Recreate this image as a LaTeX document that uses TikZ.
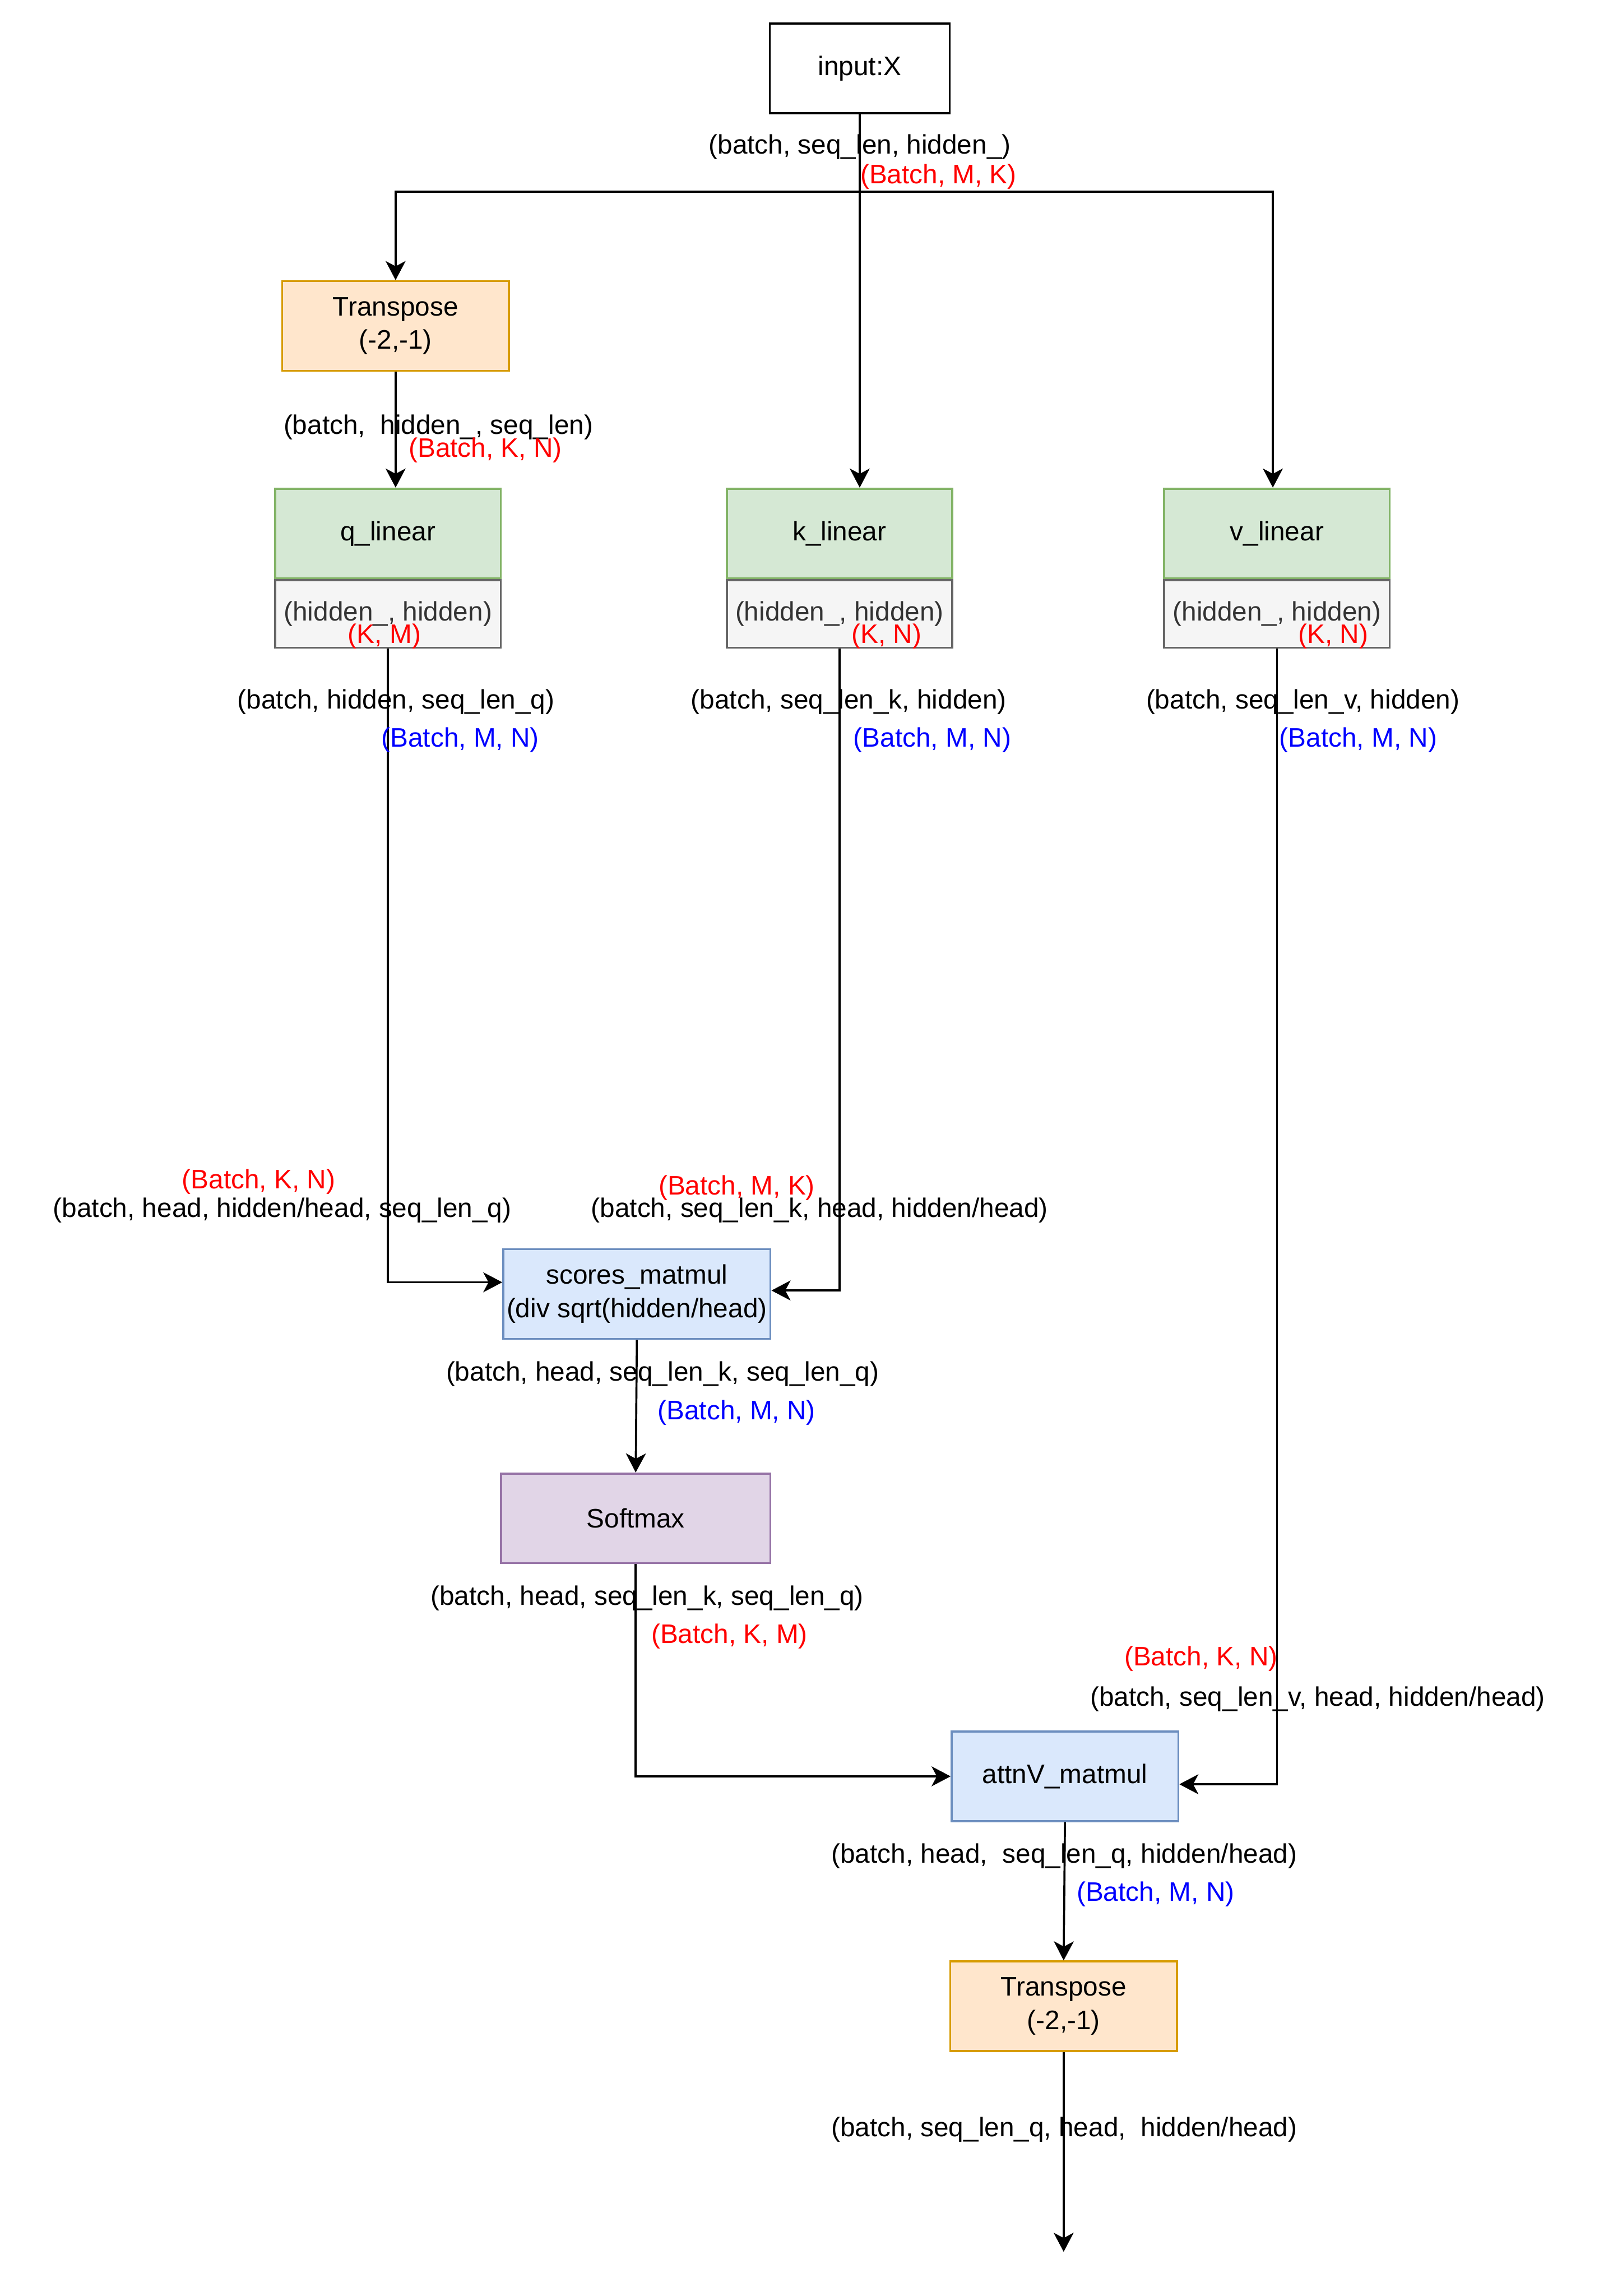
\documentclass[tikz,border=0pt]{standalone}
\usepackage{fontspec}
\setmainfont{Liberation Sans}
\usetikzlibrary{positioning,arrows.meta}
\definecolor{tpfill}{HTML}{FFE6CC}
\definecolor{tpdraw}{HTML}{D79B00}
\definecolor{linfill}{HTML}{D5E8D4}
\definecolor{lindraw}{HTML}{82B366}
\definecolor{wfill}{HTML}{F5F5F5}
\definecolor{wdraw}{HTML}{666666}
\definecolor{wtext}{HTML}{333333}
\definecolor{mmfill}{HTML}{DAE8FC}
\definecolor{mmdraw}{HTML}{6C8EBF}
\definecolor{smfill}{HTML}{E1D5E7}
\definecolor{smdraw}{HTML}{9673A6}
\tikzstyle{block} = [rectangle, minimum height=1.53cm, inner sep=0pt, align=center, line width=1pt]
\tikzstyle{inputbox} = [block, minimum width=3.07cm, draw=black, fill=white]
\tikzstyle{transpose} = [block, minimum width=3.87cm, draw=tpdraw, fill=tpfill]
\tikzstyle{linear} = [block, minimum width=3.85cm, draw=lindraw, fill=linfill]
\tikzstyle{weight} = [block, minimum width=3.85cm, minimum height=1.15cm, draw=wdraw, fill=wfill, text=wtext]
\tikzstyle{matmul} = [block, draw=mmdraw, fill=mmfill]
\tikzstyle{softmax} = [block, minimum width=4.6cm, draw=smdraw, fill=smfill]
\tikzstyle{dims} = [inner sep=0pt]
\tikzstyle{dimsred} = [dims, text=red]
\tikzstyle{dimsblue} = [dims, text=blue]
\tikzstyle{arrow} = [line width=1pt, -{Stealth[length=3.25mm, width=3.4mm, inset=0.9mm]}]

\begin{document}
\begin{tikzpicture}[x=0.025cm, y=-0.025cm, every node/.style={font=\fontsize{13pt}{16.3pt}\selectfont}]
\useasboundingbox (0,0) rectangle (1092,1568);
\node (input) [inputbox] at (587.2,46.6) {input:X};
\coordinate (split) at (587.2,130.8);
\node (tr1) [transpose] at (270.2,222.6) {Transpose\\(-2,-1)};
\node (qlin) [linear] at (265,364.3) {q\_linear};
\node (qw) [weight, below=0pt of qlin] {(hidden\_, hidden)};
\node (klin) [linear] at (573.4,364.3) {k\_linear};
\node (kw) [weight, below=0pt of klin] {(hidden\_, hidden)};
\node (vlin) [linear] at (872.2,364.3) {v\_linear};
\node (vw) [weight, below=0pt of vlin] {(hidden\_, hidden)};
\node (scores) [matmul, minimum width=4.56cm] at (435,883.7) {scores\_matmul\\(div sqrt(hidden/head)};
\node (softmax) [softmax] at (434.2,1036.9) {Softmax};
\node (attnv) [matmul, minimum width=3.87cm] at (727.4,1213.1) {attnV\_matmul};
\node (tr2) [transpose] at (726.5,1370.1) {Transpose\\(-2,-1)};
\coordinate (out) at (726.5,1537.8);

\draw [arrow] (input.south) -- (input.south |- klin.north);
\draw [arrow] (split) -| (tr1.north);
\draw [arrow] (split) -| ([xshift=-0.07cm]vlin.north);
\draw [arrow] (tr1.south) -- (tr1.south |- qlin.north);
\draw [arrow] (qw.south) |- ([yshift=0.2cm]scores.west);
\draw [arrow] (kw.south) |- ([yshift=0.06cm]scores.east);
\draw [arrow] (vw.south) |- ([yshift=-0.135cm]attnv.east);
\draw [arrow] (scores.south) -- (softmax.north);
\draw [arrow] (softmax.south) |- (attnv.west);
\draw [arrow] (attnv.south) -- (tr2.north);
\draw [arrow] (tr2.south) -- (out);

\node (d1) [dims] at (587.3,100.5) {(batch, seq\_len, hidden\_)};
\node (d1r) [dimsred] at (641,120.5) {(Batch, M, K)};
\node (d2) [dims] at (299.4,291.9) {(batch,\ \ hidden\_, seq\_len)};
\node (d2r) [dimsred] at (331.5,307.6) {(Batch, K, N)};
\node (qwr) [dimsred] at (262.6,434.6) {(K, M)};
\node (kwr) [dimsred] at (605.6,434.6) {(K, N)};
\node (vwr) [dimsred] at (910.6,434.6) {(K, N)};
\node (d3) [dims] at (270.5,479.3) {(batch, hidden, seq\_len\_q)};
\node (d3b) [dimsblue] at (314.4,505.4) {(Batch, M, N)};
\node (d4) [dims] at (579.7,479.3) {(batch, seq\_len\_k, hidden)};
\node (d4b) [dimsblue] at (636.8,505.4) {(Batch, M, N)};
\node (d5) [dims] at (889.9,479.3) {(batch, seq\_len\_v, hidden)};
\node (d5b) [dimsblue] at (927.7,505.4) {(Batch, M, N)};
\node (d6r) [dimsred] at (176.7,807) {(Batch, K, N)};
\node (d6) [dims] at (192.8,826.7) {(batch, head, hidden/head, seq\_len\_q)};
\node (d7r) [dimsred] at (503.2,811.3) {(Batch, M, K)};
\node (d7) [dims] at (559.8,826.7) {(batch, seq\_len\_k, head, hidden/head)};
\node (d8) [dims] at (452.6,938.4) {(batch, head, seq\_len\_k, seq\_len\_q)};
\node (d8b) [dimsblue] at (503.1,964.6) {(Batch, M, N)};
\node (d9) [dims] at (442,1091.6) {(batch, head, seq\_len\_k, seq\_len\_q)};
\node (d9r) [dimsred] at (498.2,1117.4) {(Batch, K, M)};
\node (d10r) [dimsred] at (820.3,1132.7) {(Batch, K, N)};
\node (d10) [dims] at (900,1160.5) {(batch, seq\_len\_v, head, hidden/head)};
\node (d11) [dims] at (726.9,1267.5) {(batch, head,\ \ seq\_len\_q, hidden/head)};
\node (d11b) [dimsblue] at (789.3,1293.7) {(Batch, M, N)};
\node (d12) [dims] at (726.9,1454.5) {(batch, seq\_len\_q, head,\ \ hidden/head)};
\end{tikzpicture}
\end{document}
